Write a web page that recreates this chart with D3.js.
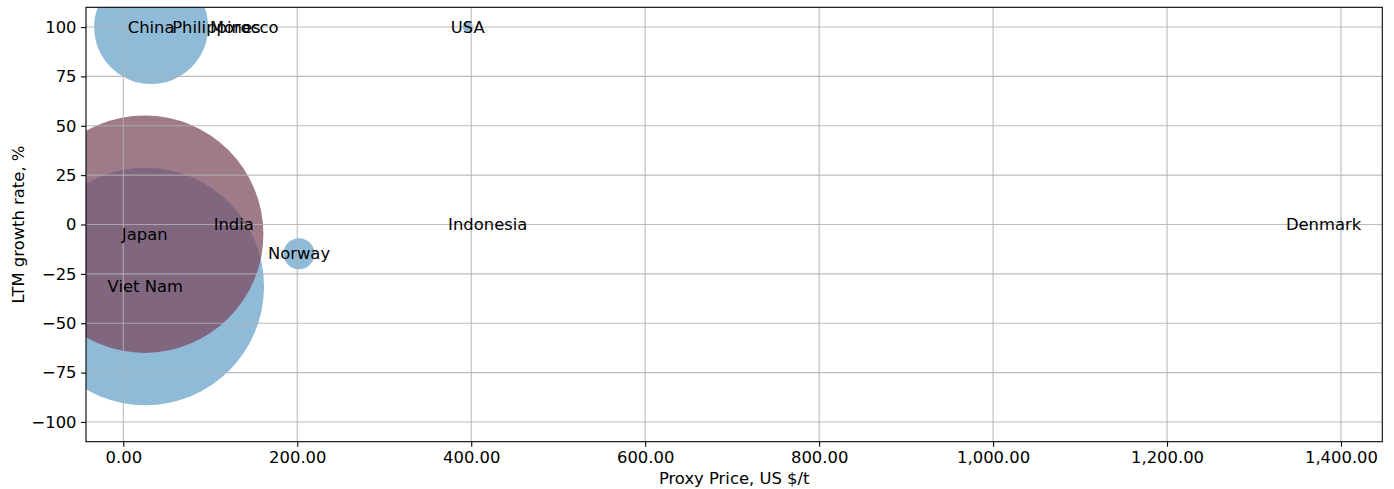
<!DOCTYPE html>
<html>
<head>
<meta charset="utf-8">
<script src="https://cdn.jsdelivr.net/npm/d3@7"></script>
<style>
  html, body { margin: 0; padding: 0; background: #fff; }
  svg { display: block; font-family: "DejaVu Sans", sans-serif; }
</style>
</head>
<body>
<svg id="chart" width="1394" height="489"></svg>
<script>
// ---- data ----
const countries = ["China", "Philippines", "Morocco", "USA", "India", "Indonesia", "Denmark", "Viet Nam", "Norway", "Japan"];
const prices    = [32, 107, 139, 396, 127, 419, 1380, 25.3, 202, 24.6];       // Proxy Price, US $/t
const growth    = [100, 100, 100, 100, 0, 0, 0, -31.4, -14.8, -4.9];         // LTM growth rate, %
const volumes   = [325, 0, 0, 2.5, 0, 0, 0, 1410, 24, 1410];                 // bubble size
const highlighted = ["Japan"];
const xTicks = [0, 200, 400, 600, 800, 1000, 1200, 1400];
const yTicks = [-100, -75, -50, -25, 0, 25, 50, 75, 100];

// ---- layout ----
const svg = d3.select("#chart");
const L = 86, R = 1382.3, T = 7.3, B = 441.7;
const FS = 16.4;

const x = d3.scaleLinear().domain([-42.9, 1447.5]).range([L, R]);
const y = d3.scaleLinear().domain([-110, 110]).range([B, T]);
const r = d3.scaleSqrt().domain([0, 1410]).range([0, 118.7]);

svg.append("defs").append("clipPath").attr("id", "clip")
  .append("rect").attr("x", L).attr("y", T).attr("width", R - L).attr("height", B - T);

const data = countries.map((c, i) => ({ name: c, px: prices[i], g: growth[i], v: volumes[i] }));

// bubbles
const gB = svg.append("g").attr("clip-path", "url(#clip)");
gB.selectAll("circle").data(data).join("circle")
  .attr("cx", d => x(d.px))
  .attr("cy", d => y(d.g))
  .attr("r", d => r(d.v))
  .attr("fill", d => highlighted.includes(d.name) ? "rgb(122,70,92)" : "#1f77b4")
  .attr("fill-opacity", d => highlighted.includes(d.name) ? 0.72 : 0.5);

// grid (above bubbles, like matplotlib)
const gG = svg.append("g");
gG.selectAll("line.gx").data(xTicks).join("line").attr("class", "gx")
  .attr("x1", d => x(d)).attr("x2", d => x(d)).attr("y1", T).attr("y2", B)
  .attr("stroke", "#b0b0b0").attr("stroke-width", 1.1).attr("stroke-opacity", 0.85);
gG.selectAll("line.gy").data(yTicks).join("line").attr("class", "gy")
  .attr("y1", d => y(d)).attr("y2", d => y(d)).attr("x1", L).attr("x2", R)
  .attr("stroke", "#b0b0b0").attr("stroke-width", 1.1).attr("stroke-opacity", 0.85);

// axes
const xAxis = d3.axisBottom(x).tickValues(xTicks).tickFormat(d3.format(",.2f")).tickSize(5).tickPadding(4.5);
const yAxis = d3.axisLeft(y).tickValues(yTicks).tickFormat(d3.format("d")).tickSize(5).tickPadding(4.5);

const gx = svg.append("g").attr("transform", `translate(0,${B})`).call(xAxis);
const gy = svg.append("g").attr("transform", `translate(${L},0)`).call(yAxis);
[gx, gy].forEach(g => {
  g.select(".domain").remove();
  g.selectAll(".tick line").attr("stroke", "#000").attr("stroke-width", 1.1);
  g.selectAll(".tick text").attr("fill", "#000").style("font-size", FS + "px")
    .style("font-family", "'DejaVu Sans', sans-serif");
});

// frame
svg.append("rect").attr("x", L).attr("y", T).attr("width", R - L).attr("height", B - T)
  .attr("fill", "none").attr("stroke", "#000").attr("stroke-width", 1.1);

// point labels
svg.append("g").selectAll("text").data(data).join("text")
  .attr("x", d => x(d.px))
  .attr("y", d => y(d.g))
  .attr("text-anchor", "middle")
  .attr("dominant-baseline", "central")
  .style("font-size", FS + "px")
  .attr("fill", "#000")
  .text(d => d.name);

// axis titles
svg.append("text").attr("x", (L + R) / 2).attr("y", 484)
  .attr("text-anchor", "middle").style("font-size", FS + "px")
  .text("Proxy Price, US $/t");
svg.append("text").attr("transform", `translate(24,${(T + B) / 2}) rotate(-90)`)
  .attr("text-anchor", "middle").style("font-size", FS + "px")
  .text("LTM growth rate, %");
</script>
</body>
</html>
